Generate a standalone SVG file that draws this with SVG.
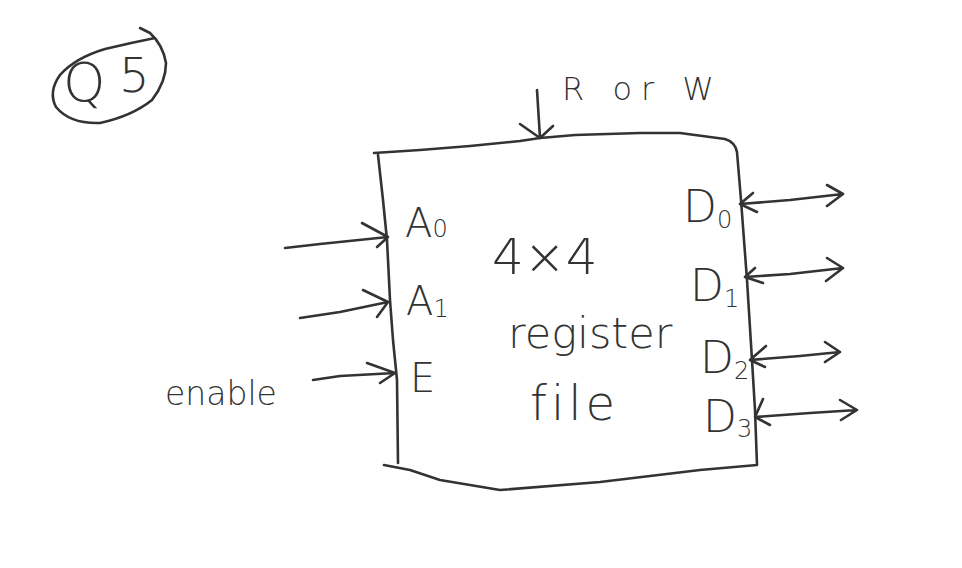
<svg xmlns="http://www.w3.org/2000/svg" width="962" height="568" viewBox="0 0 962 568">
<style>
.s{fill:none;stroke:#333;stroke-width:2.6;stroke-linecap:round;stroke-linejoin:round}
.t{font-family:"DejaVu Sans","Liberation Sans",sans-serif;fill:#333;font-weight:300}
</style>
<rect width="962" height="568" fill="#fff"/>
<g id="q5">
<path class="s" d="M140,28 L150,33 Q163,45 166,63 Q166,82 152,100 Q132,116 100,123 Q70,124 56,107 Q48,92 60,75 Q75,58 105,49 Q130,43 155,38"/>
<text class="t" x="63" y="101" font-size="54">Q</text>
<text class="t" x="119" y="92" font-size="48">5</text>
</g>
<g id="register-file">
<path class="s" d="M374,153 L420,150 L470,146 L520,141 L540,138 L575,135 L640,133 L680,133 L725,139 Q735,142 737,152 L741,200 L747,280 L752,360 L755,410 L757,465 L700,470 L600,482 L500,490 L440,480 L410,470 L384,465"/>
<path class="s" d="M378,155 L383,200 L387,240 L390,300 L393,340 L397,380 L398,463"/>
<text class="t" x="492" y="274" font-size="50">4×4</text>
<text class="t" x="508" y="348" font-size="43">register</text>
<text class="t" x="530" y="420" font-size="48" letter-spacing="4">file</text>
<text class="t" x="405" y="237" font-size="40">A<tspan font-size="24" dy="0">0</tspan></text>
<text class="t" x="406" y="315" font-size="40">A<tspan font-size="24" dy="2">1</tspan></text>
<text class="t" x="410" y="392" font-size="40">E</text>
<text class="t" x="683" y="222" font-size="44">D<tspan font-size="24" dy="6">0</tspan></text>
<text class="t" x="690" y="301" font-size="44">D<tspan font-size="24" dy="6">1</tspan></text>
<text class="t" x="700" y="373" font-size="44">D<tspan font-size="24" dy="6">2</tspan></text>
<text class="t" x="703" y="432" font-size="44">D<tspan font-size="24" dy="5">3</tspan></text>
</g>
<g id="labels">
<text class="t" x="562" y="100" font-size="32" letter-spacing="9">R or W</text>
<text class="t" x="165" y="405" font-size="33">enable</text>
</g>
<g id="connectors">
<path class="s" d="M537,90 L540,138 M520,124 L540,138 L553,126"/>
<path class="s" d="M285,248 L320,244 L388,237 M362,223 L388,237 L377,247"/>
<path class="s" d="M300,318 L340,312 L388,302 M363,290 L388,302 L377,317"/>
<path class="s" d="M313,380 L340,376 L395,373 M367,363 L395,373 L380,383"/>
<path class="s" d="M740,204 L790,200 L843,194 M753,193 L740,204 L757,212 M827,185 L843,194 L827,206"/>
<path class="s" d="M745,277 L790,274 L843,268 M755,268 L745,277 L763,283 M827,258 L843,268 L826,281"/>
<path class="s" d="M750,360 L800,356 L840,352 M766,346 L750,360 L765,367 M825,342 L840,352 L825,362"/>
<path class="s" d="M755,417 L810,413 L857,410 M763,399 L755,417 L770,425 M840,400 L857,410 L841,420"/>
</g>
</svg>
